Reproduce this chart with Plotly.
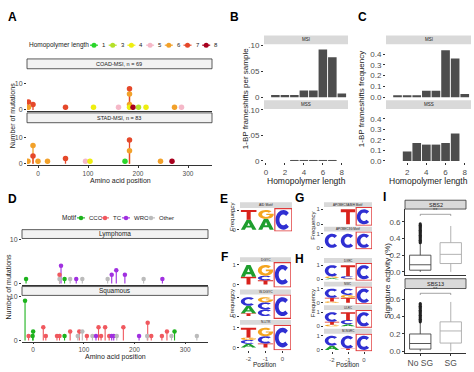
import math
import plotly.graph_objects as go

W, H = 474, 372
FONT = "Liberation Sans"
INK = "#1A1A1A"
TICK = "#4D4D4D"

# ---------------- Panel A data ----------------
A_LENGTHS = [1, 3, 4, 5, 6, 7, 8]
A_COLORS = ["#2BD62B", "#B5E02A", "#EEEE10", "#F5B8C8", "#F2A12A", "#E5482A", "#A8001E"]
A_COAD_POS = [-19, -19, -10, 55, 111, 161, 183, 183, 183, 183, 190, 201, 216, 273, 287]
A_COAD_LEN = [7, 6, 7, 7, 4, 5, 7, 6, 6, 4, 8, 3, 4, 6, 5]
A_COAD_N = [3, 1, 2, 1, 1, 1, 8, 6, 2, 1, 1, 1, 1, 1, 1]
A_STAD_POS = [-20, -10, -10, 0, 19, 55, 95, 104, 174, 183, 183, 245, 268]
A_STAD_LEN = [6, 6, 7, 6, 6, 7, 5, 4, 1, 7, 6, 6, 8]
A_STAD_N = [1, 7, 3, 1, 1, 2, 1, 1, 1, 9, 5, 1, 1]
A_FACETS = ["COAD-MSI, n = 69", "STAD-MSI, n = 83"]

# ---------------- Panels B / C data ----------------
HP_LEN = [1, 2, 3, 4, 5, 6, 7, 8]
B_MSI = [0.004, 0.004, 0.004, 0.013, 0.013, 0.092, 0.077, 0.007]
B_MSS = [0, 0, 0.0005, 0.0005, 0.0005, 0.0006, 0.0006, 0]
C_MSI = [0.015, 0.015, 0.015, 0.06, 0.06, 0.435, 0.36, 0.03]
C_MSS = [0, 0.09, 0.17, 0.155, 0.155, 0.17, 0.26, 0]
BC_FACETS = ["MSI", "MSS"]

# ---------------- Panel D data ----------------
D_MOTIFS = ["CCC", "TC", "WRC", "Other"]
D_COLORS = ["#1DB31D", "#F0585E", "#A030E0", "#BBBBBB"]
D_LYM_POS = [-14, 52, 52, 55, 62, 73, 85, 97, 147, 155, 164, 181, 218, 255]
D_LYM_MOT = ["CCC", "TC", "Other", "WRC", "CCC", "Other", "WRC", "Other", "Other",
             "WRC", "WRC", "WRC", "Other", "WRC"]
D_LYM_N = [1, 2, 1, 4, 1, 1, 1, 1, 1, 2, 3, 2, 1, 1]
D_SQ_POS = [-16, -9, -1, 0, 20, 25, 47, 52, 62, 73, 88, 91, 97, 106, 117, 124, 129, 134,
            142, 150, 155, 159, 165, 178, 209, 225, 226, 233, 254, 264, 273, 279, 323]
D_SQ_MOT = ["CCC", "TC", "CCC", "CCC", "TC", "TC", "TC", "TC", "CCC", "TC", "Other", "TC",
            "Other", "TC", "Other", "WRC", "TC", "TC", "TC", "TC", "WRC", "WRC", "Other",
            "TC", "WRC", "Other", "TC", "TC", "TC", "TC", "Other", "CCC", "Other"]
D_SQ_N = [9, 1, 1, 2, 3, 1, 1, 1, 1, 2, 1, 2, 2, 1, 1, 1, 3, 1, 3, 1, 1, 1, 1, 3, 1, 1,
          4, 1, 1, 2, 1, 2, 1]
D_FACETS = ["Lymphoma", "Squamous"]

# ---------------- Logo data (E-H) ----------------
LOGO_POS = [-2, -1, 0]
LOGO_HIGHLIGHT = 0
LOGO_COLORS = {"A": "#1E9E2E", "C": "#2F2FD2", "G": "#F5A51E", "T": "#D9221C"}
E_STRIP = "AID Motif"
E_COLS = [[("A", 0.5), ("T", 0.5)], [("A", 0.55), ("G", 0.45)], [("C", 1.0)]]
F_STRIPS = ["DGYC", "W-DGYC", "N-LTR"]
F_COLS = [
    [[("T", 0.4), ("A", 0.6)], [("T", 0.22), ("C", 0.23), ("G", 0.55)], [("C", 1.0)]],
    [[("T", 0.15), ("A", 0.4), ("C", 0.45)], [("C", 0.35), ("C", 0.38), ("G", 0.27)], [("C", 1.0)]],
    [[("A", 0.18), ("C", 0.2), ("G", 0.12), ("T", 0.5)], [("T", 0.2), ("C", 0.37), ("G", 0.43)], [("C", 1.0)]],
]
G_STRIPS = ["APOBEC3A/B/H Motif", "APOBEC3G Motif"]
G_COLS = [
    [[], [("T", 1.0)], [("C", 1.0)]],
    [[("C", 1.0)], [("C", 1.0)], [("C", 1.0)]],
]
H_STRIPS = ["DXRC", "NWC", "ULRC", "M-NGRC"]
H_COLS = [
    [[("A", 0.08), ("G", 0.12), ("C", 0.8)], [("G", 0.05), ("C", 0.17), ("T", 0.78)], [("C", 1.0)]],
    [[("G", 0.1), ("T", 0.25), ("C", 0.65)], [("T", 0.35), ("G", 0.2), ("C", 0.45)], [("C", 1.0)]],
    [[("G", 0.12), ("T", 0.2), ("C", 0.68)], [("A", 0.15), ("C", 0.3), ("T", 0.55)], [("C", 1.0)]],
    [[("A", 0.3), ("C", 0.7)], [("T", 0.1), ("C", 0.9)], [("C", 1.0)]],
]

# ---------------- Panel I data ----------------
I_GROUPS = ["No SG", "SG"]
I_GROUP_COLORS = ["#444444", "#AAAAAA"]
I_FACETS = ["SBS2", "SBS13"]
I_Q1 = [[0.02, 0.10], [0.025, 0.095]]
I_MED = [[0.085, 0.21], [0.09, 0.235]]
I_Q3 = [[0.20, 0.35], [0.20, 0.34]]
I_LO = [[0.0, 0.0], [0.0, 0.0]]
I_HI = [[0.34, 0.55], [0.33, 0.57]]
I_OUT_NOSG = [
    [0.35, 0.365, 0.38, 0.395, 0.41, 0.425, 0.44, 0.455, 0.47, 0.485, 0.50, 0.515, 0.53, 0.545, 0.56, 0.575],
    [0.34, 0.355, 0.37, 0.385, 0.40, 0.415, 0.43, 0.445, 0.46, 0.475, 0.49, 0.505, 0.52, 0.535, 0.55],
]
I_SIG = ["**", "**"]
I_SIG_Y = [0.69, 0.67]

# ======================================================================
fig = go.Figure()
axes = {}
shapes = []
annots = []
nax = [0]


def sx(px):
    return px / W


def sy(py):
    return 1 - py / H


def new_axes(xpx, ypx, xr, yr, xt=None, xl=None, yt=None, yl=None, xline=False,
             yline=False, fs=7, xfs=None, xtype=None, xshow=True, visible=True):
    nax[0] += 1
    n = nax[0]
    s = "" if n == 1 else str(n)
    common = dict(showgrid=False, zeroline=False, fixedrange=True, linecolor="#333333",
                  linewidth=0.8, ticklen=2, tickwidth=0.6, tickcolor="#333333", visible=visible)
    xa = dict(domain=[sx(xpx[0]), sx(xpx[1])], range=xr, anchor="y" + s, showline=xline,
              tickfont=dict(size=xfs or fs, color=TICK, family=FONT), **common)
    if xtype:
        xa["type"] = xtype
    if (xt is None and xtype is None) or not xshow:
        xa.update(showticklabels=False, ticks="")
    else:
        xa["ticks"] = "outside"
        if xt is not None:
            xa.update(tickmode="array", tickvals=xt, ticktext=xl if xl else [str(v) for v in xt])
    ya = dict(domain=[sy(ypx[1]), sy(ypx[0])], range=yr, anchor="x" + s, showline=yline,
              tickfont=dict(size=fs, color=TICK, family=FONT), **common)
    if yt is None:
        ya.update(showticklabels=False, ticks="")
    else:
        ya.update(ticks="outside", tickmode="array", tickvals=yt,
                  ticktext=yl if yl else [str(v) for v in yt])
    axes["xaxis" + s] = xa
    axes["yaxis" + s] = ya
    return "x" + s, "y" + s


def text(x, y, s, size, color=INK, angle=0, xanchor="center"):
    annots.append(dict(x=sx(x), y=sy(y), xref="paper", yref="paper", text=s, showarrow=False,
                       font=dict(size=size, color=color, family=FONT), textangle=angle,
                       xanchor=xanchor, yanchor="middle"))


def strip(x0, x1, y0, y1, label, fill, border, size):
    shapes.append(dict(type="rect", xref="paper", yref="paper", x0=sx(x0), x1=sx(x1),
                       y0=sy(y1), y1=sy(y0), fillcolor=fill, layer="above",
                       line=dict(color=border or fill, width=0.8 if border else 0)))
    text((x0 + x1) / 2, (y0 + y1) / 2, label, size, color="#1A1A1A")


# pixel overlay axis (legend keys)
PX, PY = new_axes((0, W), (0, H), [0, W], [H, 0], visible=False)


def legend_row(y, title, title_x, labels, colors, key_x, msize):
    text(title_x, y, title, 6.5, xanchor="left")
    for lab, col, kx in zip(labels, colors, key_x):
        shapes.append(dict(type="line", xref="paper", yref="paper", x0=sx(kx - 4), x1=sx(kx + 4),
                           y0=sy(y), y1=sy(y), line=dict(color=col, width=1.2)))
        text(kx + 6, y, lab, 6, xanchor="left")
    fig.add_trace(go.Scatter(x=key_x, y=[y] * len(key_x), mode="markers", xaxis=PX, yaxis=PY,
                             marker=dict(size=msize, color=colors, line=dict(width=0)),
                             showlegend=False, hoverinfo="skip"))


def lollipops(xa, ya, pos, cats, counts, cat_list, colors, msize, lw):
    order = sorted(range(len(pos)), key=lambda i: -counts[i])
    for cat, col in zip(cat_list, colors):
        xs, ys = [], []
        for i in order:
            if cats[i] == cat:
                xs += [pos[i], pos[i], None]
                ys += [0, counts[i], None]
        if xs:
            fig.add_trace(go.Scatter(x=xs, y=ys, mode="lines", line=dict(color=col, width=lw),
                                     xaxis=xa, yaxis=ya, showlegend=False, hoverinfo="skip"))
    fig.add_trace(go.Scatter(x=[pos[i] for i in order], y=[counts[i] for i in order],
                             mode="markers", xaxis=xa, yaxis=ya, showlegend=False,
                             marker=dict(size=msize, line=dict(width=0),
                                         color=[colors[cat_list.index(cats[i])] for i in order])))


# ---------------- glyphs for sequence logos ----------------
def arc(cx, cy, rx, ry, a0, a1, n=20):
    return [(cx + rx * math.cos(math.radians(a0 + (a1 - a0) * i / (n - 1))),
             cy + ry * math.sin(math.radians(a0 + (a1 - a0) * i / (n - 1)))) for i in range(n)]


GLYPHS = {
    "C": [arc(.5, .5, .5, .5, 45, 315, 26) + arc(.5, .5, .25, .28, 315, 45, 22)],
    "G": [arc(.5, .5, .5, .5, 45, 350, 26)
          + [(0.995, 0.57), (0.52, 0.57), (0.52, 0.43), (0.744, 0.43)]
          + arc(.5, .5, .25, .28, 340, 45, 22)],
    "A": [[(0, 0), (0.37, 1), (0.63, 1), (1, 0), (0.74, 0), (0.665, 0.22), (0.335, 0.22), (0.26, 0)],
          [(0.41, 0.40), (0.59, 0.40), (0.5, 0.70)]],
    "T": [[(0, 1), (1, 1), (1, 0.8), (0.63, 0.8), (0.63, 0), (0.37, 0), (0.37, 0.8), (0, 0.8)]],
}


def glyph_path(letter, pos, base, h, width=0.9):
    parts = []
    for poly in GLYPHS[letter]:
        pts = [(pos + (u - 0.5) * width, base + v * h) for u, v in poly]
        parts.append("M" + " L".join(f"{x:.4f},{y:.4f}" for x, y in pts) + " Z")
    return " ".join(parts)


def draw_logo(xa, ya, cols, yr):
    for pos, stack in zip(LOGO_POS, cols):
        base = 0.0
        for letter, h in stack:
            shapes.append(dict(type="path", xref=xa, yref=ya, path=glyph_path(letter, pos, base, h),
                               fillcolor=LOGO_COLORS[letter], line=dict(width=0),
                               fillrule="evenodd", layer="above"))
            base += h
    shapes.append(dict(type="rect", xref=xa, yref=ya, x0=LOGO_HIGHLIGHT - 0.49, x1=LOGO_HIGHLIGHT + 0.49,
                       y0=yr[0] + 0.03, y1=yr[1] - 0.03, line=dict(color="#E03A3A", width=1.1),
                       fillcolor="rgba(0,0,0,0)", layer="above"))


# ======================= Panel A =======================
A_YR = [-0.4, 15.6]
a_panels = [(57, 67, 110), (112, 122, 165)]
a_data = [(A_COAD_POS, A_COAD_LEN, A_COAD_N), (A_STAD_POS, A_STAD_LEN, A_STAD_N)]
for k, ((s0, p0, p1), (pos, ln, cnt)) in enumerate(zip(a_panels, a_data)):
    last = k == len(a_panels) - 1
    xa, ya = new_axes((27, 212), (p0, p1), [-22, 348], A_YR,
                      xt=[0, 100, 200, 300] if last else None, yt=[0, 10], xline=True, fs=7, xfs=6.5)
    strip(27, 212, s0, p0, A_FACETS[k], "#F2F2F2", "#333333", 5.5)
    lollipops(xa, ya, pos, ln, cnt, A_LENGTHS, A_COLORS, 5.5, 1.3)
legend_row(43, "Homopolymer length", 27, [str(v) for v in A_LENGTHS], A_COLORS,
           [94 + 18.7 * i for i in range(len(A_LENGTHS))], 5)
text(12.5, 115, "Number of mutations", 7, angle=-90)
text(120, 181, "Amino acid position", 7)
text(12.5, 14, "<b>A</b>", 12, color="#000000")

# ======================= Panels B / C =======================
bc_panels = [(33, 42, 97), (99, 108, 162)]
for k, (s0, p0, p1) in enumerate(bc_panels):
    last = k == 1
    xa, ya = new_axes((264, 348), (p0, p1), [-0.2, 8.65], [-0.002, 0.102],
                      xt=[0, 2, 4, 6, 8] if last else None,
                      yt=[0, 0.05, 0.10], yl=["0", ".05", ".10"], fs=8)
    strip(264, 348, s0, p0, BC_FACETS[k], "#D9D9D9", None, 4.5)
    fig.add_trace(go.Bar(x=HP_LEN, y=[B_MSI, B_MSS][k], width=0.9, marker=dict(color="#4D4D4D", line=dict(width=0)),
                         xaxis=xa, yaxis=ya, showlegend=False))
    xa, ya = new_axes((386, 471), (p0, p1), [-0.2, 8.65], [-0.009, 0.492],
                      xt=[2, 4, 6, 8] if last else None,
                      yt=[0, 0.1, 0.2, 0.3, 0.4], yl=["0.0", "0.1", "0.2", "0.3", "0.4"], fs=8)
    strip(386, 471, s0, p0, BC_FACETS[k], "#D9D9D9", None, 4.5)
    fig.add_trace(go.Bar(x=HP_LEN, y=[C_MSI, C_MSS][k], width=0.9, marker=dict(color="#4D4D4D", line=dict(width=0)),
                         xaxis=xa, yaxis=ya, showlegend=False))
text(245, 98, "1-BP frameshifts per sample", 8, angle=-90)
text(361, 98, "1-BP frameshifts frequency", 8, angle=-90)
text(306, 181, "Homopolymer length", 8.5)
text(428, 181, "Homopolymer length", 8.5)
text(234, 14, "<b>B</b>", 12, color="#000000")
text(362, 14, "<b>C</b>", 12, color="#000000")

# ======================= Panel D =======================
D_YR = [-0.25, 10.2]
d_panels = [(231, 240, 287), (289, 298, 345)]
d_data = [(D_LYM_POS, D_LYM_MOT, D_LYM_N), (D_SQ_POS, D_SQ_MOT, D_SQ_N)]
for k, ((s0, p0, p1), (pos, mot, cnt)) in enumerate(zip(d_panels, d_data)):
    last = k == 1
    xa, ya = new_axes((22, 208), (p0, p1), [-22, 345], D_YR,
                      xt=[0, 100, 200, 300] if last else None, yt=[0, 10], xline=True, fs=7, xfs=6.5)
    strip(22, 208, s0, p0, D_FACETS[k], "#F2F2F2", "#333333", 6.5)
    lollipops(xa, ya, pos, mot, cnt, D_MOTIFS, D_COLORS, 4.5, 1.1)
text(60, 219, "Motif", 6.5, xanchor="left")
legend_keys = [81, 105, 126, 151]
for lab, col, kx in zip(D_MOTIFS, D_COLORS, legend_keys):
    shapes.append(dict(type="line", xref="paper", yref="paper", x0=sx(kx - 4), x1=sx(kx + 4),
                       y0=sy(219), y1=sy(219), line=dict(color=col, width=1.1)))
    text(kx + 6, 219, lab, 6, xanchor="left")
fig.add_trace(go.Scatter(x=legend_keys, y=[219] * 4, mode="markers", xaxis=PX, yaxis=PY,
                         marker=dict(size=4.5, color=D_COLORS, line=dict(width=0)),
                         showlegend=False, hoverinfo="skip"))
text(9, 290, "Number of mutations", 7, angle=-90)
text(115, 361, "Amino acid position", 7)
text(12.5, 200, "<b>D</b>", 12, color="#000000")

# ======================= Panel E =======================
E_YR = [-0.1, 1.1]
xa, ya = new_axes((240, 292), (209, 233), [-2.5, 0.5], E_YR, yt=[0, 1], fs=6)
strip(240, 292, 203, 209, E_STRIP, "#D9D9D9", None, 3.3)
draw_logo(xa, ya, E_COLS, E_YR)
text(232, 218, "Frequency", 6, angle=-90)
text(224, 200, "<b>E</b>", 12, color="#000000")

# ======================= Panel F =======================
F_YR = [-0.15, 1.15]
f_panels = [(259, 264, 290), (292, 297, 322), (323, 328, 354)]
for k, (s0, p0, p1) in enumerate(f_panels):
    last = k == len(f_panels) - 1
    xa, ya = new_axes((240, 291), (p0, p1), [-2.5, 0.5], F_YR,
                      xt=LOGO_POS if last else None, yt=[0, 1], fs=6, xfs=6)
    strip(240, 291, s0, p0, F_STRIPS[k], "#D9D9D9", None, 3.3)
    draw_logo(xa, ya, F_COLS[k], F_YR)
text(232, 306, "Frequency", 6, angle=-90)
text(265, 368, "Position", 6.5)
text(224, 259, "<b>F</b>", 12, color="#000000")

# ======================= Panel G =======================
G_YR = [-0.1, 1.15]
g_panels = [(203, 208, 227), (228, 233, 251)]
for k, (s0, p0, p1) in enumerate(g_panels):
    xa, ya = new_axes((324, 372), (p0, p1), [-2.5, 0.5], G_YR, yt=[0, 1], fs=6)
    strip(324, 372, s0, p0, G_STRIPS[k], "#D9D9D9", None, 3.0)
    draw_logo(xa, ya, G_COLS[k], G_YR)
text(313, 227, "Frequency", 6, angle=-90)
text(299, 199, "<b>G</b>", 12, color="#000000")

# ======================= Panel H =======================
H_YR = [-0.1, 1.15]
for k in range(4):
    s0 = 260 + 24 * k
    p0, p1 = s0 + 5, s0 + 23
    last = k == 3
    xa, ya = new_axes((324, 372), (p0, p1), [-2.5, 0.5], H_YR,
                      xt=LOGO_POS if last else None, yt=[0, 1], fs=6, xfs=6)
    strip(324, 372, s0, p0, H_STRIPS[k], "#D9D9D9", None, 3.0)
    draw_logo(xa, ya, H_COLS[k], H_YR)
text(313, 306, "Frequency", 6, angle=-90)
text(348, 368, "Position", 6.5)
text(299, 261, "<b>H</b>", 12, color="#000000")

# ======================= Panel I =======================
i_panels = [(201, 210, 277, [-0.035, 0.753]), (281, 291, 357, [-0.023, 0.725])]
for k, (s0, p0, p1, yr) in enumerate(i_panels):
    last = k == 1
    xa, ya = new_axes((405, 466), (p0, p1), [-0.5, 1.5], yr, xtype="category", xshow=last,
                      yt=[0, 0.2, 0.4, 0.6], yl=["0.0", "0.2", "0.4", "0.6"],
                      xline=True, yline=True, fs=8, xfs=8.5)
    axes["xaxis" + xa[1:]].update(categoryorder="array", categoryarray=I_GROUPS)
    strip(405, 466, s0, p0, I_FACETS[k], "#D9D9D9", "#333333", 5.5)
    for g, grp in enumerate(I_GROUPS):
        fig.add_trace(go.Box(x=[grp], q1=[I_Q1[k][g]], median=[I_MED[k][g]], q3=[I_Q3[k][g]],
                             lowerfence=[I_LO[k][g]], upperfence=[I_HI[k][g]], boxpoints=False,
                             width=0.7, whiskerwidth=0, fillcolor="white",
                             line=dict(color=I_GROUP_COLORS[g], width=0.9),
                             xaxis=xa, yaxis=ya, showlegend=False))
    fig.add_trace(go.Scatter(x=[I_GROUPS[0]] * len(I_OUT_NOSG[k]), y=I_OUT_NOSG[k], mode="markers",
                             marker=dict(size=3.2, color="#222222", line=dict(width=0)),
                             xaxis=xa, yaxis=ya, showlegend=False))
    b = I_SIG_Y[k]
    fig.add_trace(go.Scatter(x=[I_GROUPS[0], I_GROUPS[0], I_GROUPS[1], I_GROUPS[1]],
                             y=[b - 0.02, b, b, b - 0.02], mode="lines",
                             line=dict(color="#666666", width=0.6), xaxis=xa, yaxis=ya,
                             showlegend=False))
    annots.append(dict(x=0.5, y=b - 0.008, xref=xa, yref=ya, text=I_SIG[k], showarrow=False,
                       font=dict(size=5.5, color="#444444", family=FONT), yanchor="bottom"))
text(388, 283, "Signature activity (%)", 8, angle=-90)
text(384, 198, "<b>I</b>", 12, color="#000000")

fig.update_layout(
    width=W, height=H, margin=dict(l=0, r=0, t=0, b=0),
    paper_bgcolor="white", plot_bgcolor="rgba(0,0,0,0)",
    showlegend=False, shapes=shapes, annotations=annots,
    font=dict(family=FONT, color=INK), barmode="overlay", boxmode="overlay",
    **axes,
)
fig.write_html("out.html", config={"displayModeBar": False},
               post_script="document.body.style.margin='0px';document.body.style.padding='0px';")
